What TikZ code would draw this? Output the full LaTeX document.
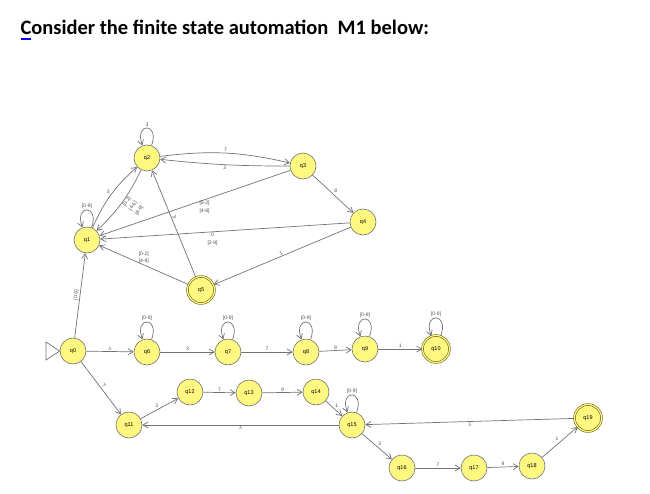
\documentclass[tikz,border=0pt]{standalone}
\usepackage{fontspec}
\setmainfont{Carlito}
\newfontfamily\lab{Liberation Sans}
\usetikzlibrary{arrows.meta}
\begin{document}
\begin{tikzpicture}[x=1pt,y=-1pt,
  st/.style={circle,draw=black!55,fill=yellow!50,minimum size=26pt,inner sep=0pt,font=\lab\fontsize{5.5}{6}\selectfont,line width=0.6pt},
  acc/.style={st,double=yellow!50,draw=olive!70!black,double distance=1.2pt,minimum size=27pt},
  tr/.style={draw=black!55,line width=0.7pt,-{Straight Barb[length=5pt,width=6pt]}},
  el/.style={font=\lab\fontsize{5}{7.5}\selectfont,text=black!70,inner sep=1pt}]
\useasboundingbox (0,0) rectangle (650,493);
\node[anchor=west,font=\bfseries\fontsize{20.5}{23}\selectfont] (title) at (17,27) {Consider the finite state automation\ \ M1 below:};
\draw[blue,line width=0.6pt] (21,38) rectangle (30,39.5);
\node[st] (q0) at (73,351) {q0};
\node[st] (q1) at (87,240) {q1};
\node[st] (q2) at (147,158) {q2};
\node[st] (q3) at (303,166) {q3};
\node[st] (q4) at (363,222) {q4};
\node[acc] (q5) at (201,290) {q5};
\node[st] (q6) at (147,352) {q6};
\node[st] (q7) at (228,352) {q7};
\node[st] (q8) at (306,352) {q8};
\node[st] (q9) at (365,349) {q9};
\node[acc] (q10) at (436,349) {q10};
\node[st] (q11) at (129,425) {q11};
\node[st] (q12) at (190,392) {q12};
\node[st] (q13) at (249,393) {q13};
\node[st] (q14) at (316,392) {q14};
\node[st] (q15) at (352,425) {q15};
\node[st] (q16) at (402,468) {q16};
\node[st] (q17) at (474,468) {q17};
\node[st] (q18) at (532,466) {q18};
\node[acc] (q19) at (588,418) {q19};
\coordinate (i1) at (46,342); \coordinate (i2) at (46,360);
\draw[black!55,line width=0.7pt] (i1) -- (q0.west) -- (i2) -- cycle;
\draw[tr] (q0) -- node[el,sloped,above] {[0-9]} (q1);
\draw[tr] (q0) -- node[el,above] {$\lambda$} (q6);
\draw[tr] (q0) -- node[el,above right] {$\lambda$} (q11);
\draw[tr] (q1) to[loop,in=110,out=70,looseness=7] node[el,above] {[0-9]} (q1);
\draw[tr] (q1) to[bend left=12] node[el,above left] {3} (q2);
\draw[tr] (q2) to[bend left=10] node[el,sloped,below,align=center,pos=0.45] {[0-2]\\{}[4-6]\\{}[8-9]} (q1);
\draw[tr] (q2) to[loop,in=110,out=70,looseness=7] node[el,above] {3} (q2);
\draw[tr] (q2) to[bend left=10] node[el,above] {7} (q3);
\draw[tr] (q3) to[bend left=3] node[el,below] {3} (q2);
\draw[tr] (q3) -- node[el,below,align=center,pos=0.45] {[0-2]\\{}[4-8]} (q1);
\draw[tr] (q3) -- node[el,above right] {8} (q4);
\draw[tr] (q4) -- node[el,below,align=center,pos=0.55] {0\\{}[2-9]} (q1);
\draw[tr] (q4) -- node[el,sloped,above] {1} (q5);
\draw[tr] (q5) -- node[el,sloped,above,pos=0.55] {3} (q2);
\draw[tr] (q5) -- node[el,above,align=center] {[0-2]\\{}[4-9]} (q1);
\foreach \q in {q6,q7,q8,q9,q10,q15}
  \draw[tr] (\q) to[loop,in=110,out=70,looseness=7] node[el,above] {[0-9]} (\q);
\draw[tr] (q6) -- node[el,above] {3} (q7);
\draw[tr] (q7) -- node[el,above] {7} (q8);
\draw[tr] (q8) -- node[el,above] {9} (q9);
\draw[tr] (q9) -- node[el,above] {1} (q10);
\draw[tr] (q11) -- node[el,above left] {3} (q12);
\draw[tr] (q12) -- node[el,above] {7} (q13);
\draw[tr] (q13) -- node[el,above] {9} (q14);
\draw[tr] (q14) -- node[el,above right] {1} (q15);
\draw[tr] (q15) -- node[el,below] {$\lambda$} (q11);
\draw[tr] (q15) -- node[el,above right] {3} (q16);
\draw[tr] (q16) -- node[el,above] {7} (q17);
\draw[tr] (q17) -- node[el,above] {9} (q18);
\draw[tr] (q18) -- node[el,above left] {1} (q19);
\draw[tr] (q19) -- node[el,below] {$\lambda$} (q15);
\end{tikzpicture}
\end{document}
